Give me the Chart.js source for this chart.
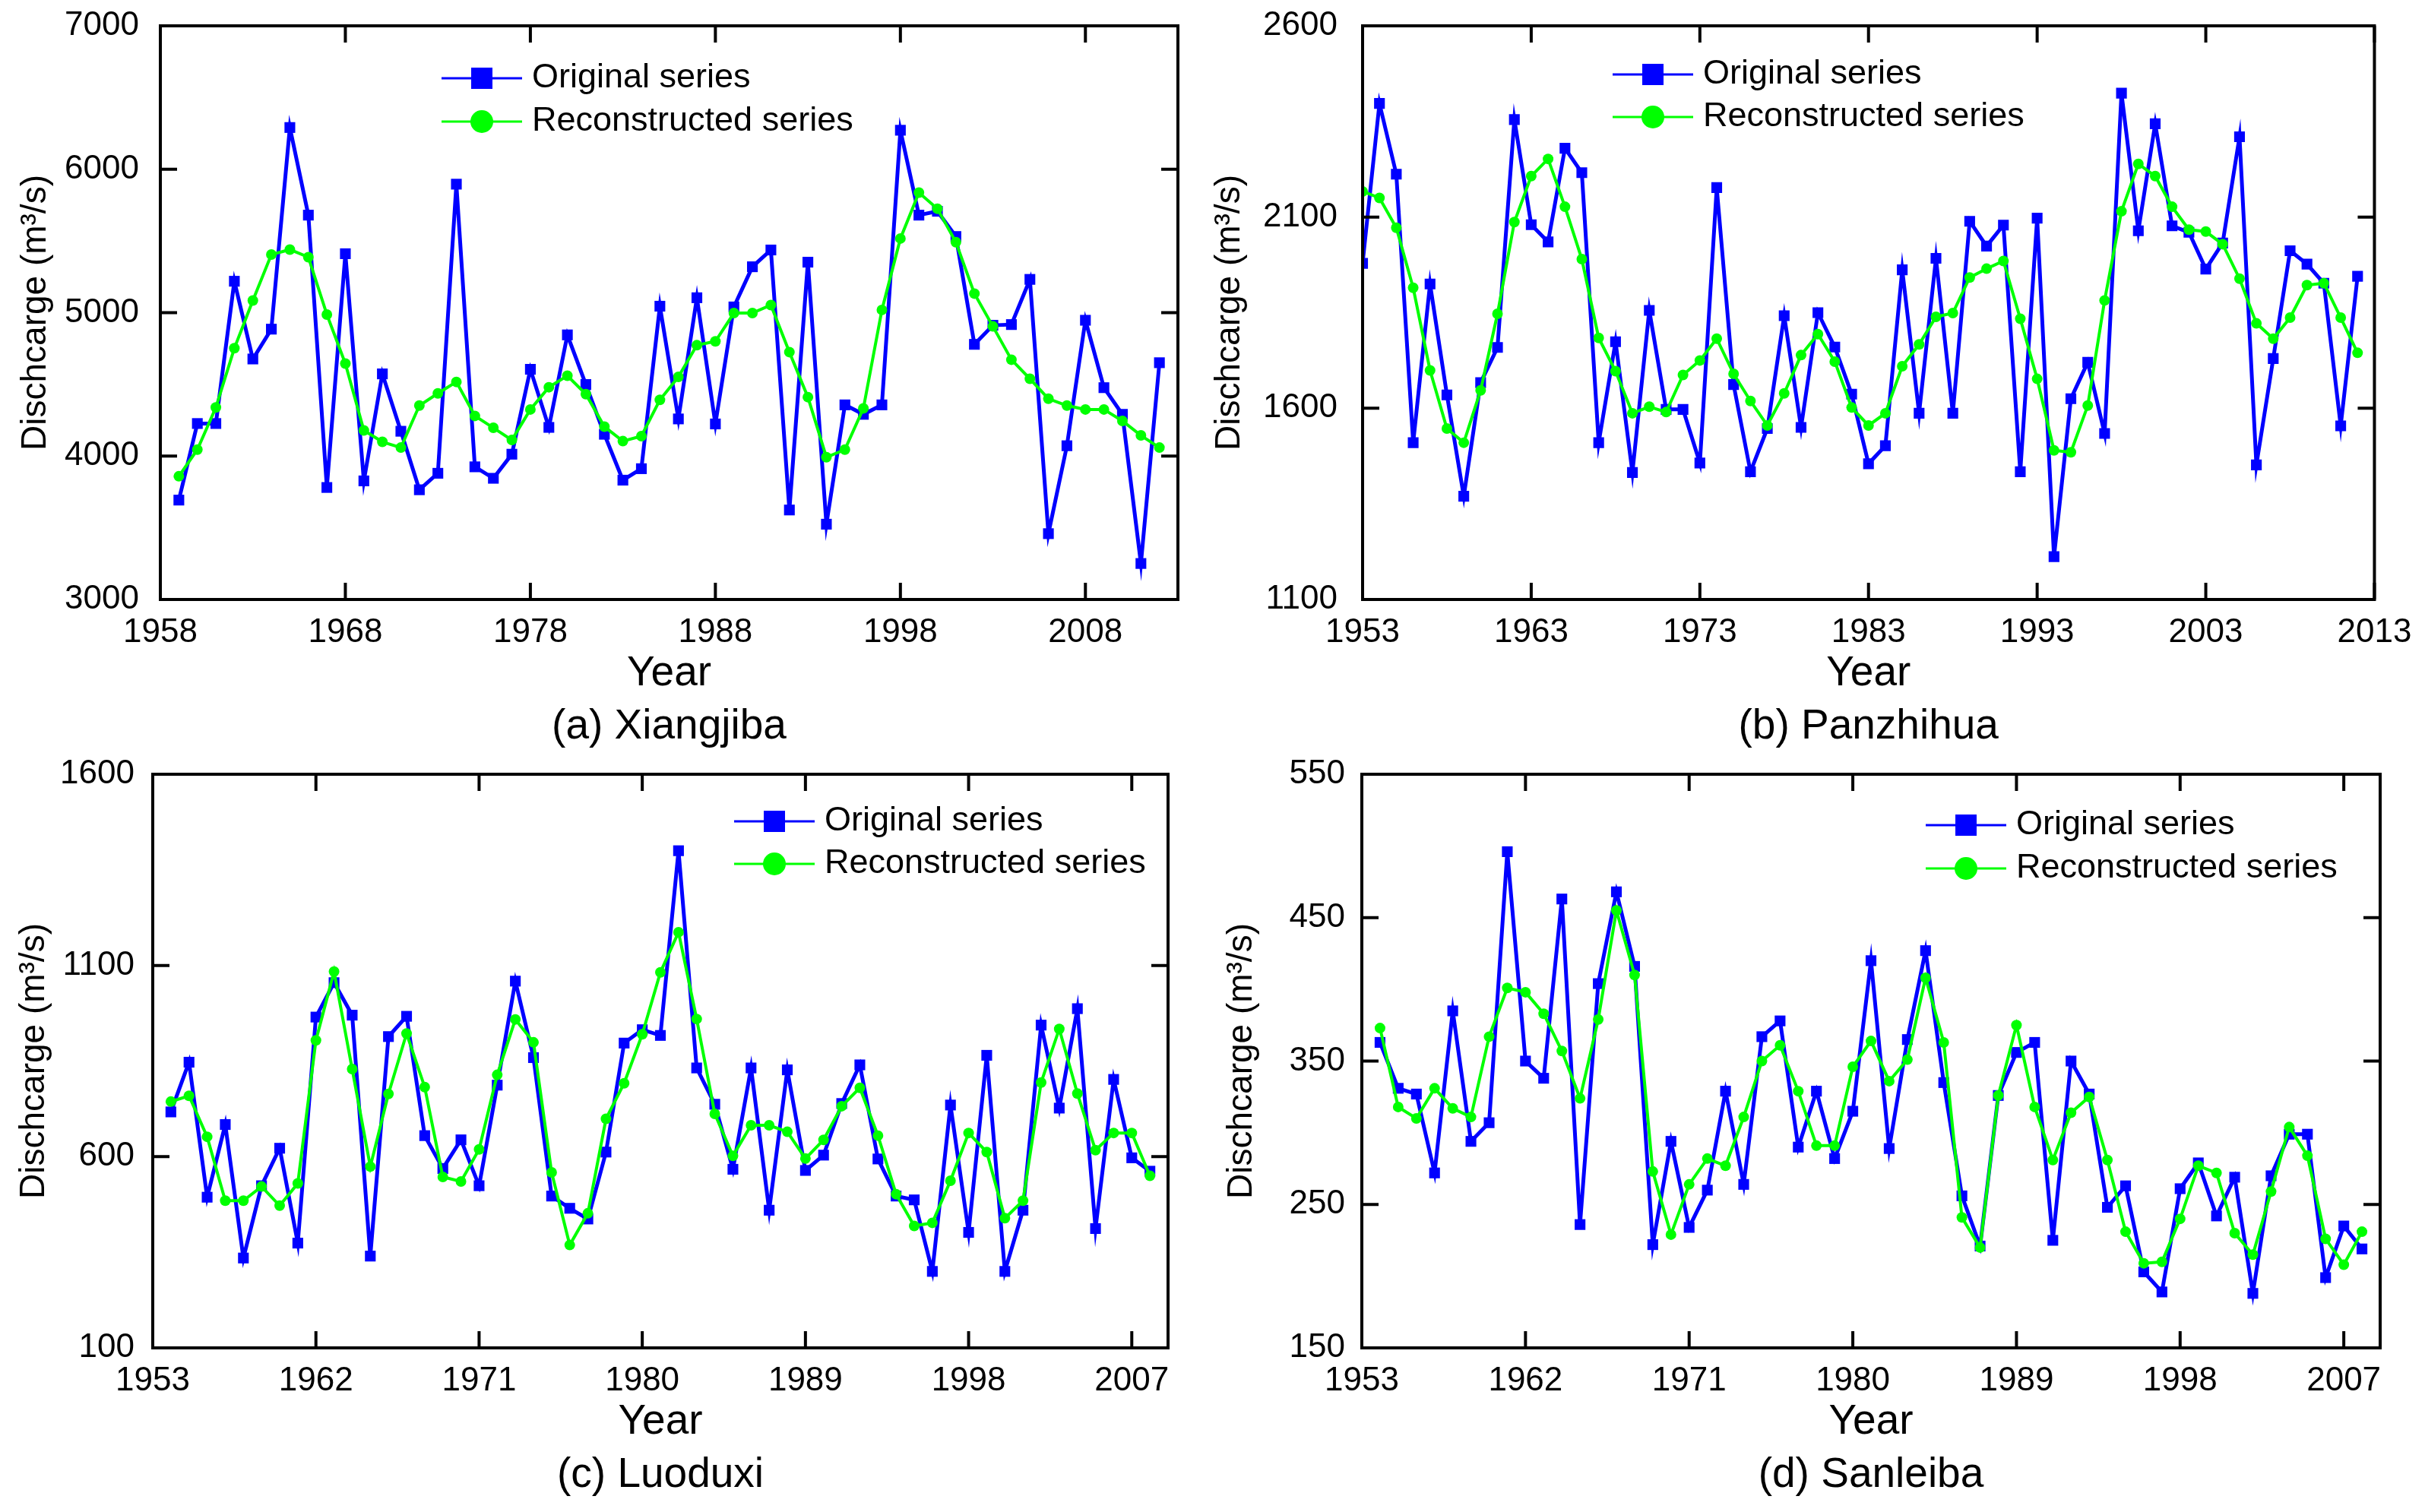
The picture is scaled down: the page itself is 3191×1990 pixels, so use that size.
<!DOCTYPE html>
<html>
<head>
<meta charset="utf-8">
<script src="https://cdn.jsdelivr.net/npm/chart.js@4.4.0/dist/chart.umd.min.js"></script>
<style>
  html, body { margin: 0; padding: 0; background: #fff; }
  body { width: 3191px; height: 1990px; position: relative; overflow: hidden; }
  .panel { position: absolute; }
</style>
</head>
<body>
<div class="panel" style="left:0px;top:0px;width:1570px;height:995px"><canvas id="chartA"></canvas></div>
<div class="panel" style="left:1570px;top:0px;width:1621px;height:995px"><canvas id="chartB"></canvas></div>
<div class="panel" style="left:0px;top:995px;width:1570px;height:995px"><canvas id="chartC"></canvas></div>
<div class="panel" style="left:1570px;top:995px;width:1621px;height:995px"><canvas id="chartD"></canvas></div>
<script>
const FONT = "'Liberation Sans', Arial, sans-serif";
const seriesNames = ['Original series', 'Reconstructed series'];

// (a) Xiangjiba, 1959-2012
const xiangjibaFirstYear = 1959;
const xiangjibaOriginal = [
  3693, 4227, 4227, 5219, 4677, 4885, 6291, 5680, 3781, 5411,
  3827, 4573, 4173, 3765, 3880, 5896, 3925, 3845, 4013, 4605,
  4200, 4845, 4499, 4152, 3832, 3912, 5045, 4259, 5104, 4224,
  5040, 5320, 5437, 3624, 5352, 3525, 4357, 4291, 4357, 6272,
  5680, 5707, 5531, 4779, 4912, 4917, 5232, 3459, 4072, 4947,
  4477, 4291, 3251, 4651
];
const xiangjibaReconstructed = [
  3859, 4045, 4339, 4752, 5085, 5405, 5440, 5387, 4987, 4645,
  4179, 4099, 4059, 4352, 4437, 4517, 4280, 4197, 4112, 4325,
  4480, 4560, 4432, 4205, 4104, 4139, 4392, 4552, 4773, 4800,
  4997, 4997, 5053, 4725, 4411, 3992, 4045, 4333, 5019, 5517,
  5837, 5725, 5491, 5133, 4904, 4672, 4539, 4400, 4352, 4325,
  4325, 4245, 4144, 4059
];
const xiangjibaYearTicks = [1958, 1968, 1978, 1988, 1998, 2008];
const xiangjibaYearRange = [1958, 2013];
const xiangjibaFlowTicks = [3000, 4000, 5000, 6000, 7000];

// (b) Panzhihua, 1953-2012
const panzhihuaFirstYear = 1953;
const panzhihuaOriginal = [
  1979, 2397, 2212, 1510, 1925, 1635, 1370, 1667, 1759, 2355,
  2080, 2035, 2280, 2216, 1510, 1774, 1432, 1856, 1597, 1597,
  1457, 2177, 1662, 1434, 1547, 1842, 1550, 1850, 1760, 1637,
  1455, 1502, 1962, 1587, 1992, 1587, 2089, 2024, 2079, 1434,
  2097, 1212, 1625, 1720, 1534, 2424, 2064, 2344, 2077, 2060,
  1964, 2032, 2310, 1452, 1730, 2012, 1977, 1927, 1554, 1945
];
const panzhihuaReconstructed = [
  2167, 2150, 2072, 1915, 1699, 1547, 1510, 1647, 1847, 2087,
  2207, 2252, 2127, 1990, 1784, 1697, 1587, 1604, 1590, 1687,
  1725, 1782, 1690, 1619, 1555, 1639, 1739, 1794, 1722, 1602,
  1555, 1587, 1710, 1767, 1839, 1849, 1942, 1965, 1985, 1834,
  1677, 1490, 1485, 1607, 1882, 2115, 2239, 2207, 2127, 2067,
  2062, 2029, 1939, 1822, 1782, 1837, 1922, 1927, 1837, 1745
];
const panzhihuaYearTicks = [1953, 1963, 1973, 1983, 1993, 2003, 2013];
const panzhihuaYearRange = [1953, 2013];
const panzhihuaFlowTicks = [1100, 1600, 2100, 2600];

// (c) Luoduxi, 1954-2008
const luoduxiFirstYear = 1954;
const luoduxiOriginal = [
  717, 847, 494, 684, 335, 524, 622, 374, 965, 1055,
  970, 340, 914, 967, 655, 569, 644, 524, 787, 1059,
  859, 497, 465, 437, 612, 897, 932, 917, 1400, 832,
  737, 567, 832, 460, 827, 564, 604, 739, 840, 594,
  497, 487, 300, 735, 402, 865, 300, 460, 944, 727,
  987, 412, 802, 597, 562
];
const luoduxiReconstructed = [
  744, 759, 652, 485, 485, 522, 472, 530, 904, 1084,
  829, 574, 764, 922, 782, 547, 535, 619, 814, 959,
  899, 559, 369, 452, 699, 792, 920, 1082, 1187, 960,
  712, 602, 682, 682, 665, 595, 644, 732, 780, 655,
  502, 419, 427, 537, 662, 612, 439, 485, 794, 934,
  765, 617, 662, 662, 550
];
const luoduxiYearTicks = [1953, 1962, 1971, 1980, 1989, 1998, 2007];
const luoduxiYearRange = [1953, 2009];
const luoduxiFlowTicks = [100, 600, 1100, 1600];

// (d) Sanleiba, 1954-2008
const sanleibaFirstYear = 1954;
const sanleibaOriginal = [
  363, 331, 327, 272, 385, 294, 307, 496, 350, 338,
  463, 236, 404, 468, 416, 222, 294, 234, 260, 329,
  264, 367, 378, 290, 329, 282, 315, 420, 289, 365,
  427, 335, 256, 221, 326, 356, 363, 225, 350, 327,
  248, 263, 203, 189, 261, 279, 242, 269, 188, 270,
  299, 299, 199, 235, 219
];
const sanleibaReconstructed = [
  373, 318, 310, 331, 317, 311, 367, 401, 398, 383,
  357, 324, 379, 455, 410, 273, 229, 264, 282, 277,
  311, 350, 361, 329, 291, 291, 346, 364, 336, 351,
  408, 363, 241, 220, 326, 375, 318, 281, 314, 325,
  281, 231, 209, 210, 240, 277, 272, 230, 215, 259,
  304, 284, 226, 208, 231
];
const sanleibaYearTicks = [1953, 1962, 1971, 1980, 1989, 1998, 2007];
const sanleibaYearRange = [1953, 2009];
const sanleibaFlowTicks = [150, 250, 350, 450, 550];

// pixel layout of each panel inside its own canvas
const layoutA = { w: 1570, h: 995, plotLeft: 211, plotTop: 34, plotRight: 1550, plotBottom: 789, yGap: 28, yTitleX: 47, legend: { dx: 370, dy: [69, 126] } };
const layoutB = { w: 1621, h: 995, plotLeft: 223, plotTop: 34, plotRight: 1562, plotBottom: 789, yGap: 33, yTitleX: 48, legend: { dx: 329, dy: [64, 120] } };
const layoutC = { w: 1570, h: 995, plotLeft: 201, plotTop: 24, plotRight: 1537, plotBottom: 779, yGap: 24, yTitleX: 45, legend: { dx: 765, dy: [62, 118] } };
const layoutD = { w: 1621, h: 995, plotLeft: 222, plotTop: 24, plotRight: 1562, plotBottom: 779, yGap: 22, yTitleX: 64, legend: { dx: 742, dy: [67, 124] } };

// box around the plot, inward ticks on all four sides, and the legend inside the plot
const framePlugin = {
  id: 'frame',
  afterDatasetsDraw(chart, args, opts) {
    const { ctx, chartArea: a, scales: { x, y } } = chart;
    const tick = 22;
    ctx.save();
    ctx.strokeStyle = '#000';
    ctx.lineWidth = 4;
    ctx.strokeRect(a.left, a.top, a.right - a.left, a.bottom - a.top);
    ctx.beginPath();
    x.ticks.forEach(t => {
      const p = x.getPixelForValue(t.value);
      ctx.moveTo(p, a.bottom); ctx.lineTo(p, a.bottom - tick);
      ctx.moveTo(p, a.top); ctx.lineTo(p, a.top + tick);
    });
    y.ticks.forEach(t => {
      const p = y.getPixelForValue(t.value);
      ctx.moveTo(a.left, p); ctx.lineTo(a.left + tick, p);
      ctx.moveTo(a.right, p); ctx.lineTo(a.right - tick, p);
    });
    ctx.stroke();

    const lg = opts.legend;
    chart.data.datasets.forEach((ds, i) => {
      const x0 = a.left + lg.dx;
      const y0 = a.top + lg.dy[i];
      ctx.strokeStyle = ds.borderColor;
      ctx.lineWidth = 3;
      ctx.beginPath();
      ctx.moveTo(x0, y0);
      ctx.lineTo(x0 + 106, y0);
      ctx.stroke();
      ctx.fillStyle = ds.backgroundColor;
      if (ds.pointStyle === 'rect') {
        ctx.fillRect(x0 + 53 - 14, y0 - 14, 28, 28);
      } else {
        ctx.beginPath();
        ctx.arc(x0 + 53, y0, 15, 0, Math.PI * 2);
        ctx.fill();
      }
      ctx.fillStyle = '#000';
      ctx.font = '45px ' + FONT;
      ctx.textBaseline = 'middle';
      ctx.textAlign = 'left';
      ctx.fillText(ds.label, x0 + 119, y0);
    });
    ctx.restore();
  }
};

function toPoints(firstYear, values) {
  return values.map((v, i) => ({ x: firstYear + i, y: v }));
}

function makeChart(id, L, firstYear, original, reconstructed, yearTicks, yearRange, flowTicks, label) {
  const titleSize = 55;
  const titleLine = 70;
  const xScaleHeight = L.h - L.plotBottom;
  const titlePadBottom = L.h - (L.plotBottom + 168) - titleLine / 2;
  const tickFont = { family: FONT, size: 44, lineHeight: 1.2 };

  return new Chart(document.getElementById(id).getContext('2d'), {
    type: 'line',
    data: {
      datasets: [
        {
          label: seriesNames[0],
          data: toPoints(firstYear, original),
          borderColor: '#0000ff',
          backgroundColor: '#0000ff',
          borderWidth: 5,
          pointStyle: 'rect',
          pointRadius: 10,
          pointBorderWidth: 0,
          tension: 0,
          order: 1,
        },
        {
          label: seriesNames[1],
          data: toPoints(firstYear, reconstructed),
          borderColor: '#00ff00',
          backgroundColor: '#00ff00',
          borderWidth: 4,
          pointStyle: 'circle',
          pointRadius: 7,
          pointBorderWidth: 0,
          tension: 0,
          order: 0,
        },
      ],
    },
    options: {
      responsive: true,
      maintainAspectRatio: false,
      animation: false,
      layout: { padding: { top: L.plotTop, right: L.w - L.plotRight, left: 0, bottom: 0 } },
      plugins: {
        legend: { display: false },
        tooltip: { enabled: false },
        frame: { legend: L.legend },
      },
      scales: {
        x: {
          type: 'linear',
          min: yearRange[0],
          max: yearRange[1],
          afterBuildTicks: s => { s.ticks = yearTicks.map(v => ({ value: v })); },
          afterFit: s => { s.height = xScaleHeight; },
          grid: { display: false, drawTicks: false },
          border: { display: false },
          ticks: { font: tickFont, color: '#000', padding: 44 - 26.4, maxRotation: 0, autoSkip: false, callback: v => String(v) },
          title: {
            display: true,
            text: ['Year', label],
            color: '#000',
            font: { family: FONT, size: titleSize, lineHeight: titleLine / titleSize },
            padding: { top: 0, bottom: titlePadBottom },
          },
        },
        y: {
          type: 'linear',
          min: flowTicks[0],
          max: flowTicks[flowTicks.length - 1],
          afterBuildTicks: s => { s.ticks = flowTicks.map(v => ({ value: v })); },
          afterFit: s => { s.width = L.plotLeft; s.paddingTop = 0; s.paddingBottom = 0; },
          grid: { display: false, drawTicks: false },
          border: { display: false },
          ticks: { font: tickFont, color: '#000', padding: L.yGap, callback: v => String(v) },
          title: { display: true, text: 'Dischcarge (m³/s)', color: '#000', font: { family: FONT, size: 46, lineHeight: 1.2 }, padding: { top: L.yTitleX - 27.6, bottom: 0 } },
        },
      },
    },
    plugins: [framePlugin],
  });
}

makeChart('chartA', layoutA, xiangjibaFirstYear, xiangjibaOriginal, xiangjibaReconstructed,
  xiangjibaYearTicks, xiangjibaYearRange, xiangjibaFlowTicks, '(a) Xiangjiba');
makeChart('chartB', layoutB, panzhihuaFirstYear, panzhihuaOriginal, panzhihuaReconstructed,
  panzhihuaYearTicks, panzhihuaYearRange, panzhihuaFlowTicks, '(b) Panzhihua');
makeChart('chartC', layoutC, luoduxiFirstYear, luoduxiOriginal, luoduxiReconstructed,
  luoduxiYearTicks, luoduxiYearRange, luoduxiFlowTicks, '(c) Luoduxi');
makeChart('chartD', layoutD, sanleibaFirstYear, sanleibaOriginal, sanleibaReconstructed,
  sanleibaYearTicks, sanleibaYearRange, sanleibaFlowTicks, '(d) Sanleiba');
</script>
</body>
</html>
